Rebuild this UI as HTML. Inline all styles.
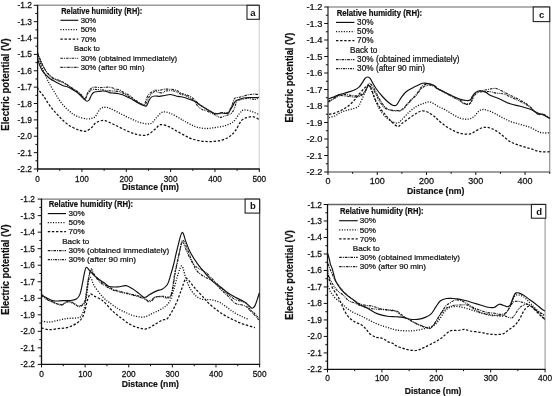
<!DOCTYPE html>
<html><head><meta charset="utf-8"><title>Electric potential vs distance</title>
<style>html,body{margin:0;padding:0;background:#fff;}svg{display:block;}text{fill:#111;} .t{stroke:#111;stroke-width:0.24px;} .b{stroke:#111;stroke-width:0.2px;} .l{stroke:#111;stroke-width:0.22px;}</style></head>
<body><svg width="553" height="396" viewBox="0 0 553 396" font-family='"Liberation Sans", Arial, Helvetica, sans-serif'>
<rect width="553" height="396" fill="#fff"/>
<path d="M37.60,5.30H259.30" fill="none" stroke="#9a9a9a" stroke-width="1.4"/>
<path d="M259.30,5.30V169.00" fill="none" stroke="#d8d8d8" stroke-width="1.3"/>
<path d="M37.60,169.00H259.80" fill="none" stroke="#111" stroke-width="1.3"/>
<path d="M37.60,4.80V169.60" fill="none" stroke="#111" stroke-width="1.3"/>
<path d="M33.80,5.30H37.60M35.40,13.49H37.60M33.80,21.67H37.60M35.40,29.86H37.60M33.80,38.04H37.60M35.40,46.22H37.60M33.80,54.41H37.60M35.40,62.60H37.60M33.80,70.78H37.60M35.40,78.96H37.60M33.80,87.15H37.60M35.40,95.33H37.60M33.80,103.52H37.60M35.40,111.71H37.60M33.80,119.89H37.60M35.40,128.07H37.60M33.80,136.26H37.60M35.40,144.44H37.60M33.80,152.63H37.60M35.40,160.81H37.60M33.80,169.00H37.60M37.60,169.00V172.00M59.77,169.00V170.80M81.94,169.00V172.00M104.11,169.00V170.80M126.28,169.00V172.00M148.45,169.00V170.80M170.62,169.00V172.00M192.79,169.00V170.80M214.96,169.00V172.00M237.13,169.00V170.80M259.30,169.00V172.00" fill="none" stroke="#111" stroke-width="1"/>
<text transform="translate(32.00,8.30) scale(1,1.16)" text-anchor="end" font-size="8.4" class="t">-1.2</text>
<text transform="translate(32.00,24.67) scale(1,1.16)" text-anchor="end" font-size="8.4" class="t">-1.3</text>
<text transform="translate(32.00,41.04) scale(1,1.16)" text-anchor="end" font-size="8.4" class="t">-1.4</text>
<text transform="translate(32.00,57.41) scale(1,1.16)" text-anchor="end" font-size="8.4" class="t">-1.5</text>
<text transform="translate(32.00,73.78) scale(1,1.16)" text-anchor="end" font-size="8.4" class="t">-1.6</text>
<text transform="translate(32.00,90.15) scale(1,1.16)" text-anchor="end" font-size="8.4" class="t">-1.7</text>
<text transform="translate(32.00,106.52) scale(1,1.16)" text-anchor="end" font-size="8.4" class="t">-1.8</text>
<text transform="translate(32.00,122.89) scale(1,1.16)" text-anchor="end" font-size="8.4" class="t">-1.9</text>
<text transform="translate(32.00,139.26) scale(1,1.16)" text-anchor="end" font-size="8.4" class="t">-2.0</text>
<text transform="translate(32.00,155.63) scale(1,1.16)" text-anchor="end" font-size="8.4" class="t">-2.1</text>
<text transform="translate(32.00,172.00) scale(1,1.16)" text-anchor="end" font-size="8.4" class="t">-2.2</text>
<text transform="translate(37.60,181.60) scale(1,1.18)" text-anchor="middle" font-size="8.2" class="t">0</text>
<text transform="translate(81.94,181.60) scale(1,1.18)" text-anchor="middle" font-size="8.2" class="t">100</text>
<text transform="translate(126.28,181.60) scale(1,1.18)" text-anchor="middle" font-size="8.2" class="t">200</text>
<text transform="translate(170.62,181.60) scale(1,1.18)" text-anchor="middle" font-size="8.2" class="t">300</text>
<text transform="translate(214.96,181.60) scale(1,1.18)" text-anchor="middle" font-size="8.2" class="t">400</text>
<text transform="translate(259.30,181.60) scale(1,1.18)" text-anchor="middle" font-size="8.2" class="t">500</text>
<text transform="translate(9.00,130.70) rotate(-90)" x="0" y="0" font-size="10.4" font-weight="bold" class="b" textLength="92.5" lengthAdjust="spacingAndGlyphs">Electric potential (V)</text>
<text x="122.00" y="190.30" font-size="9.5" font-weight="bold" class="b" textLength="57.0" lengthAdjust="spacingAndGlyphs">Distance (nm)</text>
<rect x="247.00" y="5.30" width="12.30" height="14.00" fill="#fff" stroke="#222" stroke-width="1.1"/>
<text x="253.00" y="16.20" text-anchor="middle" font-size="9.5" font-weight="bold">a</text>
<text x="61.30" y="13.70" font-size="8.3" font-weight="bold" class="b" textLength="80.8" lengthAdjust="spacingAndGlyphs">Relative humidity (RH):</text>
<path d="M60.40,20.30H78.30" stroke="#111" stroke-width="1.15" fill="none"/>
<text x="80.70" y="22.90" font-size="7.78" class="l">30%</text>
<path d="M60.40,29.70H78.30" stroke="#111" stroke-width="1.3" stroke-dasharray="1.1 1.5" fill="none"/>
<text x="80.70" y="32.30" font-size="7.78" class="l">50%</text>
<path d="M60.40,39.10H78.30" stroke="#111" stroke-width="1.25" stroke-dasharray="2.4 1.7" fill="none"/>
<text x="80.70" y="41.70" font-size="7.78" class="l">70%</text>
<text x="74.00" y="51.40" font-size="7.78" class="l">Back to</text>
<path d="M60.40,58.20H78.30" stroke="#1a1a1a" stroke-width="1.1" stroke-dasharray="2.6 1 1 1" fill="none"/>
<text x="80.70" y="60.80" font-size="7.78" class="l" textLength="96.5" lengthAdjust="spacingAndGlyphs">30% (obtained immediately)</text>
<path d="M60.40,67.40H78.30" stroke="#1a1a1a" stroke-width="1.1" stroke-dasharray="2.4 0.9 0.9 0.9 0.9 0.9" fill="none"/>
<text x="80.70" y="70.00" font-size="7.78" class="l" textLength="63.8" lengthAdjust="spacingAndGlyphs">30% (after 90 min)</text>
<path d="M37.60,59.00 C37.75,59.50 37.77,60.15 38.50,62.00 C39.23,63.85 40.73,67.90 42.00,70.10 C43.27,72.30 44.75,73.77 46.10,75.20 C47.45,76.63 48.58,77.62 50.10,78.70 C51.62,79.78 53.52,80.78 55.20,81.70 C56.88,82.62 58.85,83.52 60.20,84.20 C61.55,84.88 62.12,85.37 63.30,85.80 C64.48,86.23 65.97,86.30 67.30,86.80 C68.63,87.30 69.68,87.88 71.30,88.80 C72.92,89.72 75.30,91.02 77.00,92.30 C78.70,93.58 80.23,95.30 81.50,96.50 C82.77,97.70 83.72,98.72 84.60,99.50 C85.48,100.28 86.05,101.12 86.80,101.20 C87.55,101.28 88.33,101.00 89.10,100.00 C89.87,99.00 90.63,96.45 91.40,95.20 C92.17,93.95 92.82,93.08 93.70,92.50 C94.58,91.92 95.70,91.88 96.70,91.70 C97.70,91.52 98.57,91.52 99.70,91.40 C100.83,91.28 102.23,90.95 103.50,91.00 C104.77,91.05 106.17,91.38 107.30,91.70 C108.43,92.02 109.17,92.67 110.30,92.90 C111.43,93.13 112.68,92.97 114.10,93.10 C115.52,93.23 117.38,93.42 118.80,93.70 C120.22,93.98 121.33,94.35 122.60,94.80 C123.87,95.25 125.13,95.82 126.40,96.40 C127.67,96.98 128.95,97.62 130.20,98.30 C131.45,98.98 132.65,99.75 133.90,100.50 C135.15,101.25 136.43,102.10 137.70,102.80 C138.97,103.50 140.37,104.20 141.50,104.70 C142.63,105.20 143.73,105.55 144.50,105.80 C145.27,106.05 145.58,106.52 146.10,106.20 C146.62,105.88 147.10,104.90 147.60,103.90 C148.10,102.90 148.47,101.33 149.10,100.20 C149.73,99.07 150.42,97.80 151.40,97.10 C152.38,96.40 153.65,96.12 155.00,96.00 C156.35,95.88 157.98,96.48 159.50,96.40 C161.02,96.32 162.32,95.82 164.10,95.50 C165.88,95.18 168.57,94.53 170.20,94.50 C171.83,94.47 172.65,94.98 173.90,95.30 C175.15,95.62 176.43,96.15 177.70,96.40 C178.97,96.65 180.23,96.57 181.50,96.80 C182.77,97.03 184.03,97.40 185.30,97.80 C186.57,98.20 187.48,98.58 189.10,99.20 C190.72,99.82 193.32,100.62 195.00,101.50 C196.68,102.38 197.93,103.62 199.20,104.50 C200.47,105.38 201.40,106.05 202.60,106.80 C203.80,107.55 205.13,108.25 206.40,109.00 C207.67,109.75 208.95,110.60 210.20,111.30 C211.45,112.00 212.65,112.78 213.90,113.20 C215.15,113.62 216.43,113.83 217.70,113.80 C218.97,113.77 220.23,113.07 221.50,113.00 C222.77,112.93 224.17,113.37 225.30,113.40 C226.43,113.43 227.42,113.87 228.30,113.20 C229.18,112.53 229.83,110.67 230.60,109.40 C231.37,108.13 232.27,106.73 232.90,105.60 C233.53,104.47 233.75,103.50 234.40,102.60 C235.05,101.70 235.97,100.77 236.80,100.20 C237.63,99.63 238.23,99.57 239.40,99.20 C240.57,98.83 242.33,98.28 243.80,98.00 C245.27,97.72 246.83,97.58 248.20,97.50 C249.57,97.42 250.85,97.48 252.00,97.50 C253.15,97.52 253.95,97.62 255.10,97.60 C256.25,97.58 258.27,97.43 258.90,97.40" fill="none" stroke="#111" stroke-width="1.15" stroke-linejoin="round"/>
<path d="M37.60,53.00 C37.83,53.58 38.52,55.33 39.00,56.50 C39.48,57.67 39.82,58.40 40.50,60.00 C41.18,61.60 42.00,64.00 43.10,66.10 C44.20,68.20 45.58,70.70 47.10,72.60 C48.62,74.50 50.52,76.32 52.20,77.50 C53.88,78.68 55.52,79.00 57.20,79.70 C58.88,80.40 60.62,80.87 62.30,81.70 C63.98,82.53 65.62,83.60 67.30,84.70 C68.98,85.80 70.78,87.20 72.40,88.30 C74.02,89.40 75.57,90.27 77.00,91.30 C78.43,92.33 79.73,93.28 81.00,94.50 C82.27,95.72 83.68,98.43 84.60,98.60 C85.52,98.77 85.87,96.70 86.50,95.50 C87.13,94.30 87.45,92.72 88.40,91.40 C89.35,90.08 90.93,88.30 92.20,87.60 C93.47,86.90 94.75,87.20 96.00,87.20 C97.25,87.20 98.45,87.57 99.70,87.60 C100.95,87.63 101.85,87.47 103.50,87.40 C105.15,87.33 107.95,87.05 109.60,87.20 C111.25,87.35 112.50,87.97 113.40,88.30 C114.30,88.63 114.10,89.00 115.00,89.20 C115.90,89.40 117.53,89.07 118.80,89.50 C120.07,89.93 121.33,91.10 122.60,91.80 C123.87,92.50 125.13,93.00 126.40,93.70 C127.67,94.40 128.95,95.12 130.20,96.00 C131.45,96.88 132.65,98.05 133.90,99.00 C135.15,99.95 136.43,100.88 137.70,101.70 C138.97,102.52 140.48,103.40 141.50,103.90 C142.52,104.40 143.17,104.95 143.80,104.70 C144.43,104.45 144.80,103.53 145.30,102.40 C145.80,101.27 146.17,99.28 146.80,97.90 C147.43,96.52 148.22,95.12 149.10,94.10 C149.98,93.08 151.12,92.43 152.10,91.80 C153.08,91.17 153.77,90.55 155.00,90.30 C156.23,90.05 157.98,90.48 159.50,90.30 C161.02,90.12 162.58,89.38 164.10,89.20 C165.62,89.02 166.97,89.13 168.60,89.20 C170.23,89.27 172.38,89.28 173.90,89.60 C175.42,89.92 176.43,90.47 177.70,91.10 C178.97,91.73 180.23,92.83 181.50,93.40 C182.77,93.97 184.03,94.07 185.30,94.50 C186.57,94.93 187.83,95.37 189.10,96.00 C190.37,96.63 191.92,97.60 192.90,98.30 C193.88,99.00 194.02,99.28 195.00,100.20 C195.98,101.12 197.53,102.75 198.80,103.80 C200.07,104.85 201.33,105.63 202.60,106.50 C203.87,107.37 205.13,108.20 206.40,109.00 C207.67,109.80 208.95,110.63 210.20,111.30 C211.45,111.97 212.65,112.62 213.90,113.00 C215.15,113.38 216.43,113.68 217.70,113.60 C218.97,113.52 220.23,112.63 221.50,112.50 C222.77,112.37 224.17,112.80 225.30,112.80 C226.43,112.80 227.42,113.30 228.30,112.50 C229.18,111.70 229.83,109.58 230.60,108.00 C231.37,106.42 232.27,104.53 232.90,103.00 C233.53,101.47 233.85,99.70 234.40,98.80 C234.95,97.90 235.37,97.85 236.20,97.60 C237.03,97.35 238.13,97.57 239.40,97.30 C240.67,97.03 242.55,96.37 243.80,96.00 C245.05,95.63 245.85,95.35 246.90,95.10 C247.95,94.85 248.73,94.67 250.10,94.50 C251.47,94.33 253.63,94.05 255.10,94.10 C256.57,94.15 258.27,94.68 258.90,94.80" fill="none" stroke="#1a1a1a" stroke-width="1.1" stroke-dasharray="2.6 1 1 1" stroke-linejoin="round"/>
<path d="M37.60,54.50 C37.92,55.17 38.93,57.25 39.50,58.50 C40.07,59.75 40.33,60.58 41.00,62.00 C41.67,63.42 42.42,65.13 43.50,67.00 C44.58,68.87 46.00,71.37 47.50,73.20 C49.00,75.03 50.83,76.82 52.50,78.00 C54.17,79.18 55.83,79.58 57.50,80.30 C59.17,81.02 60.83,81.48 62.50,82.30 C64.17,83.12 65.83,84.13 67.50,85.20 C69.17,86.27 70.92,87.65 72.50,88.70 C74.08,89.75 75.58,90.45 77.00,91.50 C78.42,92.55 79.70,93.67 81.00,95.00 C82.30,96.33 83.80,99.42 84.80,99.50 C85.80,99.58 86.30,96.75 87.00,95.50 C87.70,94.25 88.08,93.00 89.00,92.00 C89.92,91.00 91.33,89.92 92.50,89.50 C93.67,89.08 94.80,89.45 96.00,89.50 C97.20,89.55 98.45,89.72 99.70,89.80 C100.95,89.88 102.23,89.87 103.50,90.00 C104.77,90.13 105.72,90.43 107.30,90.60 C108.88,90.77 111.08,90.85 113.00,91.00 C114.92,91.15 117.20,91.17 118.80,91.50 C120.40,91.83 121.33,92.42 122.60,93.00 C123.87,93.58 125.13,94.28 126.40,95.00 C127.67,95.72 128.95,96.47 130.20,97.30 C131.45,98.13 132.65,99.17 133.90,100.00 C135.15,100.83 136.43,101.58 137.70,102.30 C138.97,103.02 140.37,103.77 141.50,104.30 C142.63,104.83 143.75,105.63 144.50,105.50 C145.25,105.37 145.48,104.50 146.00,103.50 C146.52,102.50 147.02,100.67 147.60,99.50 C148.18,98.33 148.77,97.50 149.50,96.50 C150.23,95.50 151.08,94.33 152.00,93.50 C152.92,92.67 153.83,91.67 155.00,91.50 C156.17,91.33 157.73,92.28 159.00,92.50 C160.27,92.72 161.52,93.03 162.60,92.80 C163.68,92.57 164.23,91.45 165.50,91.10 C166.77,90.75 168.80,90.72 170.20,90.70 C171.60,90.68 172.65,90.70 173.90,91.00 C175.15,91.30 176.43,91.92 177.70,92.50 C178.97,93.08 180.23,94.00 181.50,94.50 C182.77,95.00 184.03,95.00 185.30,95.50 C186.57,96.00 187.48,96.42 189.10,97.50 C190.72,98.58 193.52,100.52 195.00,102.00 C196.48,103.48 196.73,105.10 198.00,106.40 C199.27,107.70 201.43,109.17 202.60,109.80 C203.77,110.43 203.77,109.75 205.00,110.20 C206.23,110.65 208.13,111.62 210.00,112.50 C211.87,113.38 214.53,114.68 216.20,115.50 C217.87,116.32 218.73,117.28 220.00,117.40 C221.27,117.52 222.53,116.58 223.80,116.20 C225.07,115.82 226.33,115.60 227.60,115.10 C228.87,114.60 230.40,114.02 231.40,113.20 C232.40,112.38 233.00,111.33 233.60,110.20 C234.20,109.07 234.47,107.93 235.00,106.40 C235.53,104.87 236.07,102.07 236.80,101.00 C237.53,99.93 238.23,100.33 239.40,100.00 C240.57,99.67 242.33,99.27 243.80,99.00 C245.27,98.73 246.83,98.40 248.20,98.40 C249.57,98.40 250.85,98.82 252.00,99.00 C253.15,99.18 254.05,99.63 255.10,99.50 C256.15,99.37 257.77,98.42 258.30,98.20" fill="none" stroke="#1a1a1a" stroke-width="1.1" stroke-dasharray="2.4 0.9 0.9 0.9 0.9 0.9" stroke-linejoin="round"/>
<path d="M37.60,53.00 C38.00,54.50 39.10,59.17 40.00,62.00 C40.90,64.83 41.90,67.33 43.00,70.00 C44.10,72.67 45.50,75.65 46.60,78.00 C47.70,80.35 48.33,81.82 49.60,84.10 C50.87,86.38 52.68,89.18 54.20,91.70 C55.72,94.22 56.93,96.68 58.70,99.20 C60.47,101.72 62.52,104.40 64.80,106.80 C67.08,109.20 69.87,111.83 72.40,113.60 C74.93,115.37 77.48,116.52 80.00,117.40 C82.52,118.28 85.50,118.75 87.50,118.90 C89.50,119.05 90.70,118.67 92.00,118.30 C93.30,117.93 94.38,117.58 95.30,116.70 C96.22,115.82 96.77,114.20 97.50,113.00 C98.23,111.80 98.87,110.40 99.70,109.50 C100.53,108.60 101.53,107.97 102.50,107.60 C103.47,107.23 104.22,107.17 105.50,107.30 C106.78,107.43 107.73,107.37 110.20,108.40 C112.67,109.43 116.93,111.82 120.30,113.50 C123.67,115.18 127.05,116.98 130.40,118.50 C133.75,120.02 137.05,121.75 140.40,122.60 C143.75,123.45 147.80,124.45 150.50,123.60 C153.20,122.75 154.58,119.42 156.60,117.50 C158.62,115.58 160.25,112.77 162.60,112.10 C164.95,111.43 167.80,112.43 170.70,113.50 C173.60,114.57 177.60,117.17 180.00,118.50 C182.40,119.83 182.57,120.17 185.10,121.50 C187.63,122.83 191.83,125.33 195.20,126.50 C198.57,127.67 201.93,128.33 205.30,128.50 C208.67,128.67 212.05,128.00 215.40,127.50 C218.75,127.00 222.38,126.50 225.40,125.50 C228.42,124.50 231.13,123.52 233.50,121.50 C235.87,119.48 237.92,115.32 239.60,113.40 C241.28,111.48 241.58,110.33 243.60,110.00 C245.62,109.67 249.18,110.67 251.70,111.40 C254.22,112.13 257.53,113.90 258.70,114.40" fill="none" stroke="#111" stroke-width="1.3" stroke-dasharray="1.1 1.5" stroke-linejoin="round"/>
<path d="M37.60,87.50 C37.72,87.82 37.30,87.95 38.30,89.40 C39.30,90.85 41.72,93.55 43.60,96.20 C45.48,98.85 47.33,102.27 49.60,105.30 C51.87,108.33 54.67,111.62 57.20,114.40 C59.73,117.18 62.27,119.85 64.80,122.00 C67.33,124.15 69.87,125.92 72.40,127.30 C74.93,128.68 77.73,129.67 80.00,130.30 C82.27,130.93 84.00,131.60 86.00,131.10 C88.00,130.60 90.33,128.70 92.00,127.30 C93.67,125.90 93.98,123.83 96.00,122.70 C98.02,121.57 101.07,120.18 104.10,120.50 C107.13,120.82 110.50,122.92 114.20,124.60 C117.90,126.28 122.60,128.98 126.30,130.60 C130.00,132.22 133.03,133.55 136.40,134.30 C139.77,135.05 143.47,135.88 146.50,135.10 C149.53,134.32 152.25,131.35 154.60,129.60 C156.95,127.85 158.25,125.10 160.60,124.60 C162.95,124.10 166.30,125.68 168.70,126.60 C171.10,127.52 172.60,128.77 175.00,130.10 C177.40,131.43 180.42,133.18 183.10,134.60 C185.78,136.02 188.08,137.53 191.10,138.60 C194.12,139.67 197.83,140.50 201.20,141.00 C204.57,141.50 207.93,141.73 211.30,141.60 C214.67,141.47 218.37,141.03 221.40,140.20 C224.43,139.37 227.15,138.22 229.50,136.60 C231.85,134.98 233.48,133.20 235.50,130.50 C237.52,127.80 239.58,122.58 241.60,120.40 C243.62,118.22 245.58,118.00 247.60,117.40 C249.62,116.80 251.85,116.47 253.70,116.80 C255.55,117.13 257.87,118.97 258.70,119.40" fill="none" stroke="#111" stroke-width="1.25" stroke-dasharray="2.4 1.7" stroke-linejoin="round"/>
<path d="M41.50,199.10H259.60" fill="none" stroke="#7a7a7a" stroke-width="1.4"/>
<path d="M259.60,199.10V364.40" fill="none" stroke="#555" stroke-width="1.3"/>
<path d="M41.50,364.40H260.10" fill="none" stroke="#111" stroke-width="1.3"/>
<path d="M41.50,198.60V365.00" fill="none" stroke="#111" stroke-width="1.3"/>
<path d="M37.70,199.10H41.50M39.30,207.37H41.50M37.70,215.63H41.50M39.30,223.90H41.50M37.70,232.16H41.50M39.30,240.42H41.50M37.70,248.69H41.50M39.30,256.95H41.50M37.70,265.22H41.50M39.30,273.49H41.50M37.70,281.75H41.50M39.30,290.01H41.50M37.70,298.28H41.50M39.30,306.55H41.50M37.70,314.81H41.50M39.30,323.07H41.50M37.70,331.34H41.50M39.30,339.60H41.50M37.70,347.87H41.50M39.30,356.13H41.50M37.70,364.40H41.50M41.50,364.40V367.40M63.31,364.40V366.20M85.12,364.40V367.40M106.93,364.40V366.20M128.74,364.40V367.40M150.55,364.40V366.20M172.36,364.40V367.40M194.17,364.40V366.20M215.98,364.40V367.40M237.79,364.40V366.20M259.60,364.40V367.40" fill="none" stroke="#111" stroke-width="1"/>
<text transform="translate(34.80,202.10) scale(1,1.08)" text-anchor="end" font-size="8.3" class="t">-1.2</text>
<text transform="translate(34.80,218.63) scale(1,1.08)" text-anchor="end" font-size="8.3" class="t">-1.3</text>
<text transform="translate(34.80,235.16) scale(1,1.08)" text-anchor="end" font-size="8.3" class="t">-1.4</text>
<text transform="translate(34.80,251.69) scale(1,1.08)" text-anchor="end" font-size="8.3" class="t">-1.5</text>
<text transform="translate(34.80,268.22) scale(1,1.08)" text-anchor="end" font-size="8.3" class="t">-1.6</text>
<text transform="translate(34.80,284.75) scale(1,1.08)" text-anchor="end" font-size="8.3" class="t">-1.7</text>
<text transform="translate(34.80,301.28) scale(1,1.08)" text-anchor="end" font-size="8.3" class="t">-1.8</text>
<text transform="translate(34.80,317.81) scale(1,1.08)" text-anchor="end" font-size="8.3" class="t">-1.9</text>
<text transform="translate(34.80,334.34) scale(1,1.08)" text-anchor="end" font-size="8.3" class="t">-2.0</text>
<text transform="translate(34.80,350.87) scale(1,1.08)" text-anchor="end" font-size="8.3" class="t">-2.1</text>
<text transform="translate(34.80,367.40) scale(1,1.08)" text-anchor="end" font-size="8.3" class="t">-2.2</text>
<text transform="translate(41.50,376.70) scale(1,1.12)" text-anchor="middle" font-size="8.3" class="t">0</text>
<text transform="translate(85.12,376.70) scale(1,1.12)" text-anchor="middle" font-size="8.3" class="t">100</text>
<text transform="translate(128.74,376.70) scale(1,1.12)" text-anchor="middle" font-size="8.3" class="t">200</text>
<text transform="translate(172.36,376.70) scale(1,1.12)" text-anchor="middle" font-size="8.3" class="t">300</text>
<text transform="translate(215.98,376.70) scale(1,1.12)" text-anchor="middle" font-size="8.3" class="t">400</text>
<text transform="translate(259.60,376.70) scale(1,1.12)" text-anchor="middle" font-size="8.3" class="t">500</text>
<text transform="translate(9.00,314.70) rotate(-90)" x="0" y="0" font-size="10.4" font-weight="bold" class="b" textLength="90.2" lengthAdjust="spacingAndGlyphs">Electric potential (V)</text>
<text x="121.70" y="386.60" font-size="9.5" font-weight="bold" class="b" textLength="57.3" lengthAdjust="spacingAndGlyphs">Distance (nm)</text>
<rect x="245.10" y="199.10" width="14.50" height="14.00" fill="#fff" stroke="#222" stroke-width="1.1"/>
<text x="253.00" y="209.20" text-anchor="middle" font-size="9.5" font-weight="bold">b</text>
<text x="48.70" y="206.70" font-size="8.3" font-weight="bold" class="b" textLength="84.4" lengthAdjust="spacingAndGlyphs">Relative humidity (RH):</text>
<path d="M47.80,213.60H66.00" stroke="#111" stroke-width="1.15" fill="none"/>
<text x="68.40" y="216.20" font-size="8.1" class="l">30%</text>
<path d="M47.80,222.70H66.00" stroke="#111" stroke-width="1.3" stroke-dasharray="1.1 1.5" fill="none"/>
<text x="68.40" y="225.30" font-size="8.1" class="l">50%</text>
<path d="M47.80,231.70H66.00" stroke="#111" stroke-width="1.25" stroke-dasharray="2.4 1.7" fill="none"/>
<text x="68.40" y="234.30" font-size="8.1" class="l">70%</text>
<text x="62.20" y="243.90" font-size="8.1" class="l">Back to</text>
<path d="M47.80,250.60H66.00" stroke="#1a1a1a" stroke-width="1.1" stroke-dasharray="2.6 1 1 1" fill="none"/>
<text x="68.40" y="253.20" font-size="8.1" class="l" textLength="100.9" lengthAdjust="spacingAndGlyphs">30% (obtained immediately)</text>
<path d="M47.80,259.60H66.00" stroke="#1a1a1a" stroke-width="1.1" stroke-dasharray="2.4 0.9 0.9 0.9 0.9 0.9" fill="none"/>
<text x="68.40" y="262.20" font-size="8.1" class="l" textLength="67.6" lengthAdjust="spacingAndGlyphs">30% (after 90 min)</text>
<path d="M41.50,294.50 C42.27,295.02 44.08,296.53 46.10,297.60 C48.12,298.67 50.83,300.40 53.60,300.90 C56.37,301.40 59.92,300.65 62.70,300.60 C65.48,300.55 68.02,300.85 70.30,300.60 C72.58,300.35 74.78,300.18 76.40,299.10 C78.02,298.02 78.97,296.83 80.00,294.10 C81.03,291.37 81.85,286.28 82.60,282.70 C83.35,279.12 83.87,275.17 84.50,272.60 C85.13,270.03 85.45,267.50 86.40,267.30 C87.35,267.10 88.73,269.88 90.20,271.40 C91.67,272.92 93.52,274.93 95.20,276.40 C96.88,277.87 98.67,279.03 100.30,280.20 C101.93,281.37 103.53,282.35 105.00,283.40 C106.47,284.45 106.93,285.92 109.10,286.50 C111.27,287.08 115.20,287.05 118.00,286.90 C120.80,286.75 123.55,285.32 125.90,285.60 C128.25,285.88 129.88,287.27 132.10,288.60 C134.32,289.93 137.13,292.12 139.20,293.60 C141.27,295.08 142.73,297.35 144.50,297.50 C146.27,297.65 147.75,295.60 149.80,294.50 C151.85,293.40 154.75,291.78 156.80,290.90 C158.85,290.02 160.33,290.27 162.10,289.20 C163.87,288.13 165.98,286.83 167.40,284.50 C168.82,282.17 169.57,278.53 170.60,275.20 C171.63,271.87 172.53,268.70 173.60,264.50 C174.67,260.30 175.60,255.32 177.00,250.00 C178.40,244.68 180.50,233.93 182.00,232.60 C183.50,231.27 184.62,238.72 186.00,242.00 C187.38,245.28 188.32,248.57 190.30,252.30 C192.28,256.03 195.37,260.87 197.90,264.40 C200.43,267.93 203.05,270.67 205.50,273.50 C207.95,276.33 210.15,279.20 212.60,281.40 C215.05,283.60 217.68,284.82 220.20,286.70 C222.72,288.58 225.18,290.93 227.70,292.70 C230.22,294.47 232.77,295.90 235.30,297.30 C237.83,298.70 240.88,299.97 242.90,301.10 C244.92,302.23 245.88,302.92 247.40,304.10 C248.92,305.28 250.73,307.95 252.00,308.20 C253.27,308.45 254.00,307.42 255.00,305.60 C256.00,303.78 257.28,299.40 258.00,297.30 C258.72,295.20 259.08,293.72 259.30,293.00" fill="none" stroke="#111" stroke-width="1.15" stroke-linejoin="round"/>
<path d="M41.50,295.00 C42.25,295.58 44.23,297.43 46.00,298.50 C47.77,299.57 49.57,300.28 52.10,301.40 C54.63,302.52 58.67,305.18 61.20,305.20 C63.73,305.22 65.28,301.88 67.30,301.50 C69.32,301.12 71.42,302.03 73.30,302.90 C75.18,303.77 77.08,306.32 78.60,306.70 C80.12,307.08 81.25,306.35 82.40,305.20 C83.55,304.05 84.63,303.12 85.50,299.80 C86.37,296.48 86.93,289.60 87.60,285.30 C88.27,281.00 88.87,276.75 89.50,274.00 C90.13,271.25 90.67,268.82 91.40,268.80 C92.13,268.78 92.42,271.78 93.90,273.90 C95.38,276.02 98.45,279.72 100.30,281.50 C102.15,283.28 102.93,283.32 105.00,284.60 C107.07,285.88 109.95,288.00 112.70,289.20 C115.45,290.40 118.57,291.02 121.50,291.80 C124.43,292.58 127.35,293.17 130.30,293.90 C133.25,294.63 136.83,295.52 139.20,296.20 C141.57,296.88 143.03,297.12 144.50,298.00 C145.97,298.88 146.83,301.00 148.00,301.50 C149.17,302.00 150.32,301.67 151.50,301.00 C152.68,300.33 153.33,298.30 155.10,297.50 C156.87,296.70 159.75,296.27 162.10,296.20 C164.45,296.13 167.57,297.83 169.20,297.10 C170.83,296.37 171.03,295.45 171.90,291.80 C172.77,288.15 173.60,279.75 174.40,275.20 C175.20,270.65 175.85,268.37 176.70,264.50 C177.55,260.63 178.50,256.05 179.50,252.00 C180.50,247.95 181.40,240.67 182.70,240.20 C184.00,239.73 185.53,245.17 187.30,249.20 C189.07,253.23 191.53,260.60 193.30,264.40 C195.07,268.20 195.87,269.85 197.90,272.00 C199.93,274.15 202.98,275.78 205.50,277.30 C208.02,278.82 210.55,279.17 213.00,281.10 C215.45,283.03 217.75,286.45 220.20,288.90 C222.65,291.35 225.18,293.40 227.70,295.80 C230.22,298.20 233.02,301.80 235.30,303.30 C237.58,304.80 239.63,304.28 241.40,304.80 C243.17,305.32 244.38,305.38 245.90,306.40 C247.42,307.42 248.98,309.38 250.50,310.90 C252.02,312.42 253.62,313.98 255.00,315.50 C256.38,317.02 258.17,319.25 258.80,320.00" fill="none" stroke="#1a1a1a" stroke-width="1.1" stroke-dasharray="2.6 1 1 1" stroke-linejoin="round"/>
<path d="M41.50,295.50 C42.25,296.08 44.23,297.92 46.00,299.00 C47.77,300.08 49.57,301.08 52.10,302.00 C54.63,302.92 58.67,304.50 61.20,304.50 C63.73,304.50 65.28,302.17 67.30,302.00 C69.32,301.83 71.42,302.83 73.30,303.50 C75.18,304.17 77.08,305.83 78.60,306.00 C80.12,306.17 81.33,305.33 82.40,304.50 C83.47,303.67 84.23,303.92 85.00,301.00 C85.77,298.08 86.33,291.17 87.00,287.00 C87.67,282.83 88.33,278.75 89.00,276.00 C89.67,273.25 90.18,270.67 91.00,270.50 C91.82,270.33 92.35,273.00 93.90,275.00 C95.45,277.00 98.45,280.75 100.30,282.50 C102.15,284.25 102.93,284.25 105.00,285.50 C107.07,286.75 109.95,288.83 112.70,290.00 C115.45,291.17 118.57,291.75 121.50,292.50 C124.43,293.25 127.35,293.75 130.30,294.50 C133.25,295.25 136.83,296.25 139.20,297.00 C141.57,297.75 143.03,298.42 144.50,299.00 C145.97,299.58 146.83,300.33 148.00,300.50 C149.17,300.67 150.32,300.58 151.50,300.00 C152.68,299.42 153.33,297.53 155.10,297.00 C156.87,296.47 159.75,296.67 162.10,296.80 C164.45,296.93 167.47,298.93 169.20,297.80 C170.93,296.67 171.53,293.97 172.50,290.00 C173.47,286.03 174.17,278.67 175.00,274.00 C175.83,269.33 176.67,266.00 177.50,262.00 C178.33,258.00 179.17,253.33 180.00,250.00 C180.83,246.67 181.33,241.67 182.50,242.00 C183.67,242.33 185.42,248.67 187.00,252.00 C188.58,255.33 190.18,259.33 192.00,262.00 C193.82,264.67 195.65,266.32 197.90,268.00 C200.15,269.68 202.98,270.15 205.50,272.10 C208.02,274.05 210.55,277.22 213.00,279.70 C215.45,282.18 217.75,284.62 220.20,287.00 C222.65,289.38 225.18,291.92 227.70,294.00 C230.22,296.08 232.77,298.20 235.30,299.50 C237.83,300.80 241.12,301.22 242.90,301.80 C244.68,302.38 245.00,301.98 246.00,303.00 C247.00,304.02 247.90,306.57 248.90,307.90 C249.90,309.23 250.98,309.98 252.00,311.00 C253.02,312.02 253.87,312.83 255.00,314.00 C256.13,315.17 258.17,317.33 258.80,318.00" fill="none" stroke="#1a1a1a" stroke-width="1.1" stroke-dasharray="2.4 0.9 0.9 0.9 0.9 0.9" stroke-linejoin="round"/>
<path d="M41.50,321.00 C42.77,321.18 46.32,322.22 49.10,322.10 C51.88,321.98 55.17,320.90 58.20,320.30 C61.23,319.70 64.27,318.88 67.30,318.50 C70.33,318.12 74.13,318.33 76.40,318.00 C78.67,317.67 79.65,317.88 80.90,316.50 C82.15,315.12 83.13,312.10 83.90,309.70 C84.67,307.30 84.98,304.88 85.50,302.10 C86.02,299.32 86.50,296.52 87.00,293.00 C87.50,289.48 87.87,283.55 88.50,281.00 C89.13,278.45 89.90,276.98 90.80,277.70 C91.70,278.42 92.32,282.57 93.90,285.30 C95.48,288.03 98.45,291.80 100.30,294.10 C102.15,296.40 103.53,297.72 105.00,299.10 C106.47,300.48 106.93,300.82 109.10,302.40 C111.27,303.98 115.05,306.83 118.00,308.60 C120.95,310.37 123.87,311.73 126.80,313.00 C129.73,314.27 132.65,315.55 135.60,316.20 C138.55,316.85 141.55,317.43 144.50,316.90 C147.45,316.37 150.37,314.38 153.30,313.00 C156.23,311.62 159.47,310.37 162.10,308.60 C164.73,306.83 167.18,305.45 169.10,302.40 C171.02,299.35 172.08,295.10 173.60,290.30 C175.12,285.50 176.80,277.65 178.20,273.60 C179.60,269.55 180.73,265.23 182.00,266.00 C183.27,266.77 184.42,274.40 185.80,278.20 C187.18,282.00 188.53,285.77 190.30,288.80 C192.07,291.83 194.45,294.70 196.40,296.40 C198.35,298.10 200.32,298.48 202.00,299.00 C203.68,299.52 204.73,299.33 206.50,299.50 C208.27,299.67 210.32,299.48 212.60,300.00 C214.88,300.52 217.68,301.28 220.20,302.60 C222.72,303.92 225.18,306.13 227.70,307.90 C230.22,309.67 232.77,311.68 235.30,313.20 C237.83,314.72 240.75,316.00 242.90,317.00 C245.05,318.00 247.32,318.83 248.20,319.20" fill="none" stroke="#111" stroke-width="1.3" stroke-dasharray="1.1 1.5" stroke-linejoin="round"/>
<path d="M41.50,327.90 C42.77,328.20 46.32,329.58 49.10,329.70 C51.88,329.82 55.42,328.90 58.20,328.60 C60.98,328.30 63.28,328.47 65.80,327.90 C68.32,327.33 71.03,326.33 73.30,325.20 C75.57,324.07 77.75,322.67 79.40,321.10 C81.05,319.53 82.18,317.95 83.20,315.80 C84.22,313.65 84.78,310.83 85.50,308.20 C86.22,305.57 86.72,302.35 87.50,300.00 C88.28,297.65 89.13,294.77 90.20,294.10 C91.27,293.43 92.22,295.17 93.90,296.00 C95.58,296.83 98.45,297.95 100.30,299.10 C102.15,300.25 102.93,300.88 105.00,302.90 C107.07,304.92 109.95,308.63 112.70,311.20 C115.45,313.77 118.57,316.08 121.50,318.30 C124.43,320.52 127.35,322.88 130.30,324.50 C133.25,326.12 136.55,327.27 139.20,328.00 C141.85,328.73 143.85,329.33 146.20,328.90 C148.55,328.47 150.65,326.87 153.30,325.40 C155.95,323.93 159.72,321.28 162.10,320.10 C164.48,318.92 165.42,320.73 167.60,318.30 C169.78,315.87 172.93,310.17 175.20,305.50 C177.47,300.83 179.57,294.60 181.20,290.30 C182.83,286.00 183.98,281.60 185.00,279.70 C186.02,277.80 185.67,277.52 187.30,278.90 C188.93,280.28 192.03,284.83 194.80,288.00 C197.57,291.17 201.70,295.47 203.90,297.90 C206.10,300.33 206.30,300.93 208.00,302.60 C209.70,304.27 212.07,306.27 214.10,307.90 C216.13,309.53 217.93,310.88 220.20,312.40 C222.47,313.92 225.18,315.60 227.70,317.00 C230.22,318.40 232.52,319.55 235.30,320.80 C238.08,322.05 241.12,323.37 244.40,324.50 C247.68,325.63 253.23,327.08 255.00,327.60" fill="none" stroke="#111" stroke-width="1.25" stroke-dasharray="2.4 1.7" stroke-linejoin="round"/>
<path d="M328.00,7.00H549.70" fill="none" stroke="#999" stroke-width="1.6"/>
<path d="M549.70,7.00V172.00" fill="none" stroke="#9a9a9a" stroke-width="1.3"/>
<path d="M328.00,172.00H550.20" fill="none" stroke="#7c7c7c" stroke-width="1.7"/>
<path d="M328.00,6.50V172.60" fill="none" stroke="#333" stroke-width="1.3"/>
<path d="M324.20,7.00H328.00M325.80,15.25H328.00M324.20,23.50H328.00M325.80,31.75H328.00M324.20,40.00H328.00M325.80,48.25H328.00M324.20,56.50H328.00M325.80,64.75H328.00M324.20,73.00H328.00M325.80,81.25H328.00M324.20,89.50H328.00M325.80,97.75H328.00M324.20,106.00H328.00M325.80,114.25H328.00M324.20,122.50H328.00M325.80,130.75H328.00M324.20,139.00H328.00M325.80,147.25H328.00M324.20,155.50H328.00M325.80,163.75H328.00M324.20,172.00H328.00M328.00,172.00V175.00M352.63,172.00V173.80M377.27,172.00V175.00M401.90,172.00V173.80M426.53,172.00V175.00M451.17,172.00V173.80M475.80,172.00V175.00M500.43,172.00V173.80M525.07,172.00V175.00M549.70,172.00V173.80" fill="none" stroke="#111" stroke-width="1"/>
<text transform="translate(322.40,10.20) scale(1,1.02)" text-anchor="end" font-size="9.3" class="t">-1.2</text>
<text transform="translate(322.40,26.70) scale(1,1.02)" text-anchor="end" font-size="9.3" class="t">-1.3</text>
<text transform="translate(322.40,43.20) scale(1,1.02)" text-anchor="end" font-size="9.3" class="t">-1.4</text>
<text transform="translate(322.40,59.70) scale(1,1.02)" text-anchor="end" font-size="9.3" class="t">-1.5</text>
<text transform="translate(322.40,76.20) scale(1,1.02)" text-anchor="end" font-size="9.3" class="t">-1.6</text>
<text transform="translate(322.40,92.70) scale(1,1.02)" text-anchor="end" font-size="9.3" class="t">-1.7</text>
<text transform="translate(322.40,109.20) scale(1,1.02)" text-anchor="end" font-size="9.3" class="t">-1.8</text>
<text transform="translate(322.40,125.70) scale(1,1.02)" text-anchor="end" font-size="9.3" class="t">-1.9</text>
<text transform="translate(322.40,142.20) scale(1,1.02)" text-anchor="end" font-size="9.3" class="t">-2.0</text>
<text transform="translate(322.40,158.70) scale(1,1.02)" text-anchor="end" font-size="9.3" class="t">-2.1</text>
<text transform="translate(322.40,175.20) scale(1,1.02)" text-anchor="end" font-size="9.3" class="t">-2.2</text>
<text transform="translate(328.00,184.00) scale(1,1.05)" text-anchor="middle" font-size="9.0" class="t">0</text>
<text transform="translate(377.27,184.00) scale(1,1.05)" text-anchor="middle" font-size="9.0" class="t">100</text>
<text transform="translate(426.53,184.00) scale(1,1.05)" text-anchor="middle" font-size="9.0" class="t">200</text>
<text transform="translate(475.80,184.00) scale(1,1.05)" text-anchor="middle" font-size="9.0" class="t">300</text>
<text transform="translate(525.07,184.00) scale(1,1.05)" text-anchor="middle" font-size="9.0" class="t">400</text>
<text transform="translate(292.50,122.40) rotate(-90)" x="0" y="0" font-size="10.4" font-weight="bold" class="b" textLength="89.8" lengthAdjust="spacingAndGlyphs">Electric potential (V)</text>
<text x="407.10" y="194.30" font-size="9.5" font-weight="bold" class="b" textLength="57.3" lengthAdjust="spacingAndGlyphs">Distance (nm)</text>
<rect x="533.20" y="7.00" width="16.50" height="14.60" fill="#fff" stroke="#222" stroke-width="1.1"/>
<text x="541.70" y="18.00" text-anchor="middle" font-size="9.5" font-weight="bold">c</text>
<text x="336.70" y="15.50" font-size="8.3" font-weight="bold" class="b" textLength="85.5" lengthAdjust="spacingAndGlyphs">Relative humidity (RH):</text>
<path d="M336.00,22.40H354.40" stroke="#111" stroke-width="1.15" fill="none"/>
<text x="357.10" y="25.00" font-size="8.2" class="l">30%</text>
<path d="M336.00,31.70H354.40" stroke="#111" stroke-width="1.3" stroke-dasharray="1.1 1.5" fill="none"/>
<text x="357.10" y="34.30" font-size="8.2" class="l">50%</text>
<path d="M336.00,40.60H354.40" stroke="#111" stroke-width="1.25" stroke-dasharray="2.4 1.7" fill="none"/>
<text x="357.10" y="43.20" font-size="8.2" class="l">70%</text>
<text x="350.00" y="52.70" font-size="8.2" class="l">Back to</text>
<path d="M336.00,59.60H354.40" stroke="#1a1a1a" stroke-width="1.1" stroke-dasharray="2.6 1 1 1" fill="none"/>
<text x="357.10" y="62.20" font-size="8.2" class="l" textLength="102.5" lengthAdjust="spacingAndGlyphs">30% (obtained immediately)</text>
<path d="M336.00,68.60H354.40" stroke="#1a1a1a" stroke-width="1.1" stroke-dasharray="2.4 0.9 0.9 0.9 0.9 0.9" fill="none"/>
<text x="357.10" y="71.20" font-size="8.2" class="l" textLength="68.0" lengthAdjust="spacingAndGlyphs">30% (after 90 min)</text>
<path d="M328.30,98.80 C329.18,98.50 331.77,97.70 333.60,97.00 C335.43,96.30 337.53,95.22 339.30,94.60 C341.07,93.98 342.72,93.72 344.20,93.30 C345.68,92.88 346.52,92.63 348.20,92.10 C349.88,91.57 352.45,90.98 354.30,90.10 C356.15,89.22 357.93,88.10 359.30,86.80 C360.67,85.50 361.55,83.68 362.50,82.30 C363.45,80.92 364.22,79.38 365.00,78.50 C365.78,77.62 366.38,77.05 367.20,77.00 C368.02,76.95 369.08,77.38 369.90,78.20 C370.72,79.02 371.02,80.10 372.10,81.90 C373.18,83.70 374.75,86.65 376.40,89.00 C378.05,91.35 380.12,93.88 382.00,96.00 C383.88,98.12 385.92,100.17 387.70,101.70 C389.48,103.23 391.28,104.62 392.70,105.20 C394.12,105.78 395.23,105.73 396.20,105.20 C397.17,104.67 397.63,103.32 398.50,102.00 C399.37,100.68 400.17,98.97 401.40,97.30 C402.63,95.63 404.13,93.52 405.90,92.00 C407.67,90.48 409.98,89.33 412.00,88.20 C414.02,87.07 416.23,86.02 418.00,85.20 C419.77,84.38 420.83,83.57 422.60,83.30 C424.37,83.03 426.53,83.15 428.60,83.60 C430.67,84.05 433.50,85.17 435.00,86.00 C436.50,86.83 435.90,87.53 437.60,88.60 C439.30,89.67 442.68,91.13 445.20,92.40 C447.72,93.67 450.18,95.07 452.70,96.20 C455.22,97.33 458.02,98.48 460.30,99.20 C462.58,99.92 464.75,100.37 466.40,100.50 C468.05,100.63 469.20,100.72 470.20,100.00 C471.20,99.28 471.52,97.47 472.40,96.20 C473.28,94.93 474.23,93.28 475.50,92.40 C476.77,91.52 478.23,90.90 480.00,90.90 C481.77,90.90 484.43,91.68 486.10,92.40 C487.77,93.12 487.67,94.07 490.00,95.20 C492.33,96.33 496.73,97.77 500.10,99.20 C503.47,100.63 506.83,102.62 510.20,103.80 C513.57,104.98 516.93,105.38 520.30,106.30 C523.67,107.22 527.37,108.13 530.40,109.30 C533.43,110.47 536.15,112.28 538.50,113.30 C540.85,114.32 542.65,114.55 544.50,115.40 C546.35,116.25 548.75,117.90 549.60,118.40" fill="none" stroke="#111" stroke-width="1.15" stroke-linejoin="round"/>
<path d="M328.30,101.20 C328.93,100.85 330.80,99.87 332.10,99.10 C333.40,98.33 334.77,97.35 336.10,96.60 C337.43,95.85 338.58,94.93 340.10,94.60 C341.62,94.27 343.68,94.52 345.20,94.60 C346.72,94.68 347.52,94.88 349.20,95.10 C350.88,95.32 353.45,95.90 355.30,95.90 C357.15,95.90 358.78,95.73 360.30,95.10 C361.82,94.47 363.22,93.45 364.40,92.10 C365.58,90.75 366.58,88.47 367.40,87.00 C368.22,85.53 368.27,83.20 369.30,83.30 C370.33,83.40 372.18,85.48 373.60,87.60 C375.02,89.72 376.40,93.42 377.80,96.00 C379.20,98.58 380.58,101.08 382.00,103.10 C383.42,105.12 384.63,106.92 386.30,108.10 C387.97,109.28 390.05,109.80 392.00,110.20 C393.95,110.60 396.50,110.53 398.00,110.50 C399.50,110.47 399.93,110.57 401.00,110.00 C402.07,109.43 402.82,108.72 404.40,107.10 C405.98,105.48 408.48,102.45 410.50,100.30 C412.52,98.15 414.73,96.35 416.50,94.20 C418.27,92.05 419.58,89.03 421.10,87.40 C422.62,85.77 423.83,84.90 425.60,84.40 C427.37,83.90 429.70,83.70 431.70,84.40 C433.70,85.10 435.35,87.27 437.60,88.60 C439.85,89.93 442.68,91.13 445.20,92.40 C447.72,93.67 450.18,94.93 452.70,96.20 C455.22,97.47 458.53,98.87 460.30,100.00 C462.07,101.13 461.78,102.37 463.30,103.00 C464.82,103.63 468.03,104.30 469.40,103.80 C470.77,103.30 470.75,101.52 471.50,100.00 C472.25,98.48 472.73,96.13 473.90,94.70 C475.07,93.27 476.73,92.15 478.50,91.40 C480.27,90.65 482.48,90.62 484.50,90.20 C486.52,89.78 488.67,89.18 490.60,88.90 C492.53,88.62 494.18,88.13 496.10,88.50 C498.02,88.87 499.75,89.98 502.10,91.10 C504.45,92.22 507.17,93.68 510.20,95.20 C513.23,96.72 517.27,98.52 520.30,100.20 C523.33,101.88 526.05,103.45 528.40,105.30 C530.75,107.15 532.72,109.80 534.40,111.30 C536.08,112.80 537.15,113.87 538.50,114.30 C539.85,114.73 541.15,113.62 542.50,113.90 C543.85,114.18 545.42,115.25 546.60,116.00 C547.78,116.75 549.10,118.00 549.60,118.40" fill="none" stroke="#1a1a1a" stroke-width="1.1" stroke-dasharray="2.6 1 1 1" stroke-linejoin="round"/>
<path d="M328.30,102.00 C328.93,101.67 330.80,100.75 332.10,100.00 C333.40,99.25 334.77,98.25 336.10,97.50 C337.43,96.75 338.58,95.75 340.10,95.50 C341.62,95.25 343.68,95.83 345.20,96.00 C346.72,96.17 347.52,96.33 349.20,96.50 C350.88,96.67 353.45,97.08 355.30,97.00 C357.15,96.92 358.78,96.67 360.30,96.00 C361.82,95.33 363.28,94.33 364.40,93.00 C365.52,91.67 366.30,89.25 367.00,88.00 C367.70,86.75 367.60,85.33 368.60,85.50 C369.60,85.67 371.52,87.00 373.00,89.00 C374.48,91.00 376.05,94.92 377.50,97.50 C378.95,100.08 380.28,102.62 381.70,104.50 C383.12,106.38 384.28,107.80 386.00,108.80 C387.72,109.80 390.00,110.13 392.00,110.50 C394.00,110.87 396.50,111.00 398.00,111.00 C399.50,111.00 399.93,111.00 401.00,110.50 C402.07,110.00 402.82,109.58 404.40,108.00 C405.98,106.42 408.48,103.17 410.50,101.00 C412.52,98.83 414.73,97.00 416.50,95.00 C418.27,93.00 419.58,90.50 421.10,89.00 C422.62,87.50 423.83,86.58 425.60,86.00 C427.37,85.42 429.70,85.00 431.70,85.50 C433.70,86.00 435.35,87.75 437.60,89.00 C439.85,90.25 442.68,91.67 445.20,93.00 C447.72,94.33 450.18,95.67 452.70,97.00 C455.22,98.33 458.53,99.92 460.30,101.00 C462.07,102.08 461.78,102.97 463.30,103.50 C464.82,104.03 467.95,104.70 469.40,104.20 C470.85,103.70 471.15,101.95 472.00,100.50 C472.85,99.05 473.42,96.87 474.50,95.50 C475.58,94.13 476.83,92.93 478.50,92.30 C480.17,91.67 482.48,91.80 484.50,91.70 C486.52,91.60 488.67,91.47 490.60,91.70 C492.53,91.93 493.85,92.72 496.10,93.10 C498.35,93.48 501.75,93.35 504.10,94.00 C506.45,94.65 507.50,95.75 510.20,97.00 C512.90,98.25 517.27,100.00 520.30,101.50 C523.33,103.00 526.05,104.33 528.40,106.00 C530.75,107.67 532.72,110.08 534.40,111.50 C536.08,112.92 537.15,114.03 538.50,114.50 C539.85,114.97 541.15,114.00 542.50,114.30 C543.85,114.60 545.42,115.62 546.60,116.30 C547.78,116.98 549.10,118.05 549.60,118.40" fill="none" stroke="#1a1a1a" stroke-width="1.1" stroke-dasharray="2.4 0.9 0.9 0.9 0.9 0.9" stroke-linejoin="round"/>
<path d="M329.00,117.50 C330.02,117.22 333.25,116.58 335.10,115.80 C336.95,115.02 338.42,113.63 340.10,112.80 C341.78,111.97 343.33,111.40 345.20,110.80 C347.07,110.20 349.28,109.80 351.30,109.20 C353.32,108.60 355.93,107.98 357.30,107.20 C358.67,106.42 358.68,105.88 359.50,104.50 C360.32,103.12 361.15,101.25 362.20,98.90 C363.25,96.55 364.73,92.72 365.80,90.40 C366.87,88.08 367.55,84.77 368.60,85.00 C369.65,85.23 370.80,88.78 372.10,91.80 C373.40,94.82 374.75,99.57 376.40,103.10 C378.05,106.63 380.12,110.40 382.00,113.00 C383.88,115.60 385.80,117.17 387.70,118.70 C389.60,120.23 391.68,121.50 393.40,122.20 C395.12,122.90 396.67,123.27 398.00,122.90 C399.33,122.53 399.58,121.75 401.40,120.00 C403.22,118.25 406.38,114.67 408.90,112.40 C411.42,110.13 413.97,107.92 416.50,106.40 C419.03,104.88 421.82,104.03 424.10,103.30 C426.38,102.57 427.95,101.53 430.20,102.00 C432.45,102.47 435.10,104.80 437.60,106.10 C440.10,107.40 442.68,108.42 445.20,109.80 C447.72,111.18 450.18,113.00 452.70,114.40 C455.22,115.80 457.77,117.40 460.30,118.20 C462.83,119.00 465.63,119.45 467.90,119.20 C470.17,118.95 472.13,118.00 473.90,116.70 C475.67,115.40 476.98,112.60 478.50,111.40 C480.02,110.20 480.98,109.50 483.00,109.50 C485.02,109.50 487.75,110.25 490.60,111.40 C493.45,112.55 496.83,114.73 500.10,116.40 C503.37,118.07 506.83,120.07 510.20,121.40 C513.57,122.73 516.93,123.38 520.30,124.40 C523.67,125.42 527.03,126.15 530.40,127.50 C533.77,128.85 537.30,131.60 540.50,132.50 C543.70,133.40 548.08,132.83 549.60,132.90" fill="none" stroke="#111" stroke-width="1.3" stroke-dasharray="1.1 1.5" stroke-linejoin="round"/>
<path d="M329.00,114.30 C329.85,114.13 332.42,113.80 334.10,113.30 C335.78,112.80 337.42,112.07 339.10,111.30 C340.78,110.53 342.52,109.72 344.20,108.70 C345.88,107.68 347.52,106.62 349.20,105.20 C350.88,103.78 352.78,101.88 354.30,100.20 C355.82,98.52 356.73,96.97 358.30,95.10 C359.87,93.23 362.10,90.62 363.70,89.00 C365.30,87.38 366.73,85.63 367.90,85.40 C369.07,85.17 369.52,85.35 370.70,87.60 C371.88,89.85 373.35,95.37 375.00,98.90 C376.65,102.43 378.72,105.98 380.60,108.80 C382.48,111.62 384.40,113.57 386.30,115.80 C388.20,118.03 390.05,120.42 392.00,122.20 C393.95,123.98 396.43,126.23 398.00,126.50 C399.57,126.77 399.58,125.13 401.40,123.80 C403.22,122.47 406.38,120.27 408.90,118.50 C411.42,116.73 414.22,114.47 416.50,113.20 C418.78,111.93 420.58,111.02 422.60,110.90 C424.62,110.78 426.53,111.48 428.60,112.50 C430.67,113.52 433.50,115.83 435.00,117.00 C436.50,118.17 435.90,118.03 437.60,119.50 C439.30,120.97 442.68,124.00 445.20,125.80 C447.72,127.60 450.18,129.05 452.70,130.30 C455.22,131.55 457.52,132.67 460.30,133.30 C463.08,133.93 466.87,134.47 469.40,134.10 C471.93,133.73 473.48,132.12 475.50,131.10 C477.52,130.08 479.73,128.63 481.50,128.00 C483.27,127.37 484.33,127.17 486.10,127.30 C487.87,127.43 489.77,127.77 492.10,128.80 C494.43,129.83 497.08,131.37 500.10,133.50 C503.12,135.63 506.83,139.57 510.20,141.60 C513.57,143.63 516.93,144.52 520.30,145.70 C523.67,146.88 527.03,147.70 530.40,148.70 C533.77,149.70 537.30,151.20 540.50,151.70 C543.70,152.20 548.08,151.70 549.60,151.70" fill="none" stroke="#111" stroke-width="1.25" stroke-dasharray="2.4 1.7" stroke-linejoin="round"/>
<path d="M327.50,204.50H545.10" fill="none" stroke="#666" stroke-width="1.4"/>
<path d="M545.10,204.50V369.40" fill="none" stroke="#a8a8a8" stroke-width="1.3"/>
<path d="M327.50,369.40H545.60" fill="none" stroke="#111" stroke-width="1.3"/>
<path d="M327.50,204.00V370.00" fill="none" stroke="#111" stroke-width="1.3"/>
<path d="M323.70,204.50H327.50M325.30,212.75H327.50M323.70,220.99H327.50M325.30,229.24H327.50M323.70,237.48H327.50M325.30,245.72H327.50M323.70,253.97H327.50M325.30,262.22H327.50M323.70,270.46H327.50M325.30,278.70H327.50M323.70,286.95H327.50M325.30,295.19H327.50M323.70,303.44H327.50M325.30,311.69H327.50M323.70,319.93H327.50M325.30,328.17H327.50M323.70,336.42H327.50M325.30,344.66H327.50M323.70,352.91H327.50M325.30,361.15H327.50M323.70,369.40H327.50M327.50,369.40V372.40M354.70,369.40V371.20M381.90,369.40V372.40M409.10,369.40V371.20M436.30,369.40V372.40M463.50,369.40V371.20M490.70,369.40V372.40M517.90,369.40V371.20M545.10,369.40V372.40" fill="none" stroke="#111" stroke-width="1"/>
<text transform="translate(321.90,207.50) scale(1,1.06)" text-anchor="end" font-size="8.4" class="t">-1.2</text>
<text transform="translate(321.90,223.99) scale(1,1.06)" text-anchor="end" font-size="8.4" class="t">-1.3</text>
<text transform="translate(321.90,240.48) scale(1,1.06)" text-anchor="end" font-size="8.4" class="t">-1.4</text>
<text transform="translate(321.90,256.97) scale(1,1.06)" text-anchor="end" font-size="8.4" class="t">-1.5</text>
<text transform="translate(321.90,273.46) scale(1,1.06)" text-anchor="end" font-size="8.4" class="t">-1.6</text>
<text transform="translate(321.90,289.95) scale(1,1.06)" text-anchor="end" font-size="8.4" class="t">-1.7</text>
<text transform="translate(321.90,306.44) scale(1,1.06)" text-anchor="end" font-size="8.4" class="t">-1.8</text>
<text transform="translate(321.90,322.93) scale(1,1.06)" text-anchor="end" font-size="8.4" class="t">-1.9</text>
<text transform="translate(321.90,339.42) scale(1,1.06)" text-anchor="end" font-size="8.4" class="t">-2.0</text>
<text transform="translate(321.90,355.91) scale(1,1.06)" text-anchor="end" font-size="8.4" class="t">-2.1</text>
<text transform="translate(321.90,372.40) scale(1,1.06)" text-anchor="end" font-size="8.4" class="t">-2.2</text>
<text transform="translate(327.50,381.40) scale(1,1.1)" text-anchor="middle" font-size="8.4" class="t">0</text>
<text transform="translate(381.90,381.40) scale(1,1.1)" text-anchor="middle" font-size="8.4" class="t">100</text>
<text transform="translate(436.30,381.40) scale(1,1.1)" text-anchor="middle" font-size="8.4" class="t">200</text>
<text transform="translate(490.70,381.40) scale(1,1.1)" text-anchor="middle" font-size="8.4" class="t">300</text>
<text transform="translate(545.10,381.40) scale(1,1.1)" text-anchor="middle" font-size="8.4" class="t">400</text>
<text transform="translate(293.00,319.70) rotate(-90)" x="0" y="0" font-size="10.4" font-weight="bold" class="b" textLength="89.6" lengthAdjust="spacingAndGlyphs">Electric potential (V)</text>
<text x="404.80" y="394.00" font-size="9.5" font-weight="bold" class="b" textLength="56.6" lengthAdjust="spacingAndGlyphs">Distance (nm)</text>
<rect x="531.40" y="204.50" width="14.40" height="13.70" fill="#fff" stroke="#222" stroke-width="1.1"/>
<text x="539.20" y="214.80" text-anchor="middle" font-size="9.5" font-weight="bold">d</text>
<text x="340.00" y="213.90" font-size="8.3" font-weight="bold" class="b" textLength="83.6" lengthAdjust="spacingAndGlyphs">Relative humidity (RH):</text>
<path d="M339.20,220.70H357.70" stroke="#111" stroke-width="1.15" fill="none"/>
<text x="359.80" y="223.30" font-size="8.1" class="l">30%</text>
<path d="M339.20,229.90H357.70" stroke="#111" stroke-width="1.3" stroke-dasharray="1.1 1.5" fill="none"/>
<text x="359.80" y="232.50" font-size="8.1" class="l">50%</text>
<path d="M339.20,238.90H357.70" stroke="#111" stroke-width="1.25" stroke-dasharray="2.4 1.7" fill="none"/>
<text x="359.80" y="241.50" font-size="8.1" class="l">70%</text>
<text x="352.80" y="251.00" font-size="8.1" class="l">Back to</text>
<path d="M339.20,257.40H357.70" stroke="#1a1a1a" stroke-width="1.1" stroke-dasharray="2.6 1 1 1" fill="none"/>
<text x="359.80" y="260.00" font-size="8.1" class="l" textLength="100.2" lengthAdjust="spacingAndGlyphs">30% (obtained immediately)</text>
<path d="M339.20,266.60H357.70" stroke="#1a1a1a" stroke-width="1.1" stroke-dasharray="2.4 0.9 0.9 0.9 0.9 0.9" fill="none"/>
<text x="359.80" y="269.20" font-size="8.1" class="l" textLength="66.2" lengthAdjust="spacingAndGlyphs">30% (after 90 min)</text>
<path d="M327.70,253.50 C327.98,254.48 328.97,257.68 329.40,259.40 C329.83,261.12 329.83,262.23 330.30,263.80 C330.77,265.37 331.67,267.18 332.20,268.80 C332.73,270.42 332.88,271.38 333.50,273.50 C334.12,275.62 334.67,278.90 335.90,281.50 C337.13,284.10 339.02,286.78 340.90,289.10 C342.78,291.42 345.10,293.60 347.20,295.40 C349.30,297.20 351.67,298.47 353.50,299.90 C355.33,301.33 356.78,303.02 358.20,304.00 C359.62,304.98 360.37,305.03 362.00,305.80 C363.63,306.57 365.92,307.50 368.00,308.60 C370.08,309.70 372.33,311.35 374.50,312.40 C376.67,313.45 378.83,314.27 381.00,314.90 C383.17,315.53 384.97,315.88 387.50,316.20 C390.03,316.52 393.67,316.60 396.20,316.80 C398.73,317.00 400.37,317.00 402.70,317.40 C405.03,317.80 407.70,318.87 410.20,319.20 C412.70,319.53 415.18,319.70 417.70,319.40 C420.22,319.10 423.02,318.37 425.30,317.40 C427.58,316.43 429.63,315.37 431.40,313.60 C433.17,311.83 434.38,308.93 435.90,306.80 C437.42,304.67 438.73,302.18 440.50,300.80 C442.27,299.42 444.48,298.88 446.50,298.50 C448.52,298.12 450.75,298.43 452.60,298.50 C454.45,298.57 455.50,298.57 457.60,298.90 C459.70,299.23 462.68,299.87 465.20,300.50 C467.72,301.13 470.18,301.95 472.70,302.70 C475.22,303.45 477.77,304.23 480.30,305.00 C482.83,305.77 485.63,306.88 487.90,307.30 C490.17,307.72 492.38,307.80 493.90,307.50 C495.42,307.20 496.07,306.05 497.00,305.50 C497.93,304.95 498.48,304.25 499.50,304.20 C500.52,304.15 501.83,304.78 503.10,305.20 C504.37,305.62 505.92,306.70 507.10,306.70 C508.28,306.70 509.35,306.28 510.20,305.20 C511.05,304.12 511.53,301.88 512.20,300.20 C512.87,298.52 513.53,296.32 514.20,295.10 C514.87,293.88 515.37,293.23 516.20,292.90 C517.03,292.57 518.02,292.73 519.20,293.10 C520.38,293.47 521.78,294.18 523.30,295.10 C524.82,296.02 526.62,297.42 528.30,298.60 C529.98,299.78 531.72,300.93 533.40,302.20 C535.08,303.47 536.97,305.03 538.40,306.20 C539.83,307.37 540.90,308.40 542.00,309.20 C543.10,310.00 544.50,310.70 545.00,311.00" fill="none" stroke="#111" stroke-width="1.15" stroke-linejoin="round"/>
<path d="M328.10,263.80 C328.37,264.53 329.12,266.73 329.70,268.20 C330.28,269.67 330.77,270.72 331.60,272.60 C332.43,274.48 333.65,277.52 334.70,279.50 C335.75,281.48 336.85,282.93 337.90,284.50 C338.95,286.07 339.98,287.63 341.00,288.90 C342.02,290.17 342.53,290.70 344.00,292.10 C345.47,293.50 347.78,295.70 349.80,297.30 C351.82,298.90 354.33,300.58 356.10,301.70 C357.87,302.82 358.78,303.38 360.40,304.00 C362.02,304.62 363.98,305.08 365.80,305.40 C367.62,305.72 369.48,305.55 371.30,305.90 C373.12,306.25 374.90,306.95 376.70,307.50 C378.50,308.05 380.30,308.75 382.10,309.20 C383.90,309.65 385.68,309.93 387.50,310.20 C389.32,310.47 391.37,310.62 393.00,310.80 C394.63,310.98 396.03,310.77 397.30,311.30 C398.57,311.83 399.33,313.00 400.60,314.00 C401.87,315.00 403.47,316.30 404.90,317.30 C406.33,318.30 407.57,319.10 409.20,320.00 C410.83,320.90 412.52,321.73 414.70,322.70 C416.88,323.67 419.90,324.92 422.30,325.80 C424.70,326.68 427.33,328.00 429.10,328.00 C430.87,328.00 431.52,327.32 432.90,325.80 C434.28,324.28 435.88,321.30 437.40,318.90 C438.92,316.50 440.48,313.67 442.00,311.40 C443.52,309.13 444.98,306.82 446.50,305.30 C448.02,303.78 449.68,303.18 451.10,302.30 C452.52,301.42 453.42,300.30 455.00,300.00 C456.58,299.70 458.65,299.92 460.60,300.50 C462.55,301.08 464.68,302.37 466.70,303.50 C468.72,304.63 470.43,306.17 472.70,307.30 C474.97,308.43 477.77,309.42 480.30,310.30 C482.83,311.18 485.45,312.10 487.90,312.60 C490.35,313.10 493.15,313.02 495.00,313.30 C496.85,313.58 497.48,314.22 499.00,314.30 C500.52,314.38 502.75,314.30 504.10,313.80 C505.45,313.30 506.08,312.48 507.10,311.30 C508.12,310.12 509.18,308.22 510.20,306.70 C511.22,305.18 512.03,303.12 513.20,302.20 C514.37,301.28 515.68,301.20 517.20,301.20 C518.72,301.20 520.78,301.78 522.30,302.20 C523.82,302.62 524.78,303.03 526.30,303.70 C527.82,304.37 529.55,304.93 531.40,306.20 C533.25,307.47 535.22,309.87 537.40,311.30 C539.58,312.73 543.32,314.22 544.50,314.80" fill="none" stroke="#1a1a1a" stroke-width="1.1" stroke-dasharray="2.6 1 1 1" stroke-linejoin="round"/>
<path d="M327.70,270.00 C327.77,270.53 327.77,271.83 328.10,273.20 C328.43,274.57 329.02,276.53 329.70,278.20 C330.38,279.87 331.25,281.52 332.20,283.20 C333.15,284.88 334.25,286.82 335.40,288.30 C336.55,289.78 337.85,291.02 339.10,292.10 C340.35,293.18 341.33,293.40 342.90,294.80 C344.47,296.20 346.52,299.13 348.50,300.50 C350.48,301.87 352.82,302.17 354.80,303.00 C356.78,303.83 358.32,304.72 360.40,305.50 C362.48,306.28 364.63,307.08 367.30,307.70 C369.97,308.32 373.37,308.90 376.40,309.20 C379.43,309.50 382.73,309.32 385.50,309.50 C388.27,309.68 390.98,309.83 393.00,310.30 C395.02,310.77 396.10,311.35 397.60,312.30 C399.10,313.25 400.17,314.90 402.00,316.00 C403.83,317.10 406.48,317.73 408.60,318.90 C410.72,320.07 412.42,321.73 414.70,323.00 C416.98,324.27 419.83,325.58 422.30,326.50 C424.77,327.42 427.98,328.37 429.50,328.50 C431.02,328.63 430.33,328.38 431.40,327.30 C432.47,326.22 434.38,324.15 435.90,322.00 C437.42,319.85 438.98,316.55 440.50,314.40 C442.02,312.25 443.50,310.37 445.00,309.10 C446.50,307.83 447.98,307.43 449.50,306.80 C451.02,306.17 452.35,305.60 454.10,305.30 C455.85,305.00 457.90,305.05 460.00,305.00 C462.10,304.95 464.58,304.50 466.70,305.00 C468.82,305.50 470.43,306.73 472.70,308.00 C474.97,309.27 477.27,311.33 480.30,312.60 C483.33,313.87 488.45,315.15 490.90,315.60 C493.35,316.05 492.97,315.35 495.00,315.30 C497.03,315.25 500.92,314.97 503.10,315.30 C505.28,315.63 506.58,316.88 508.10,317.30 C509.62,317.72 511.02,318.30 512.20,317.80 C513.38,317.30 514.03,315.90 515.20,314.30 C516.37,312.70 517.85,309.72 519.20,308.20 C520.55,306.68 521.95,305.87 523.30,305.20 C524.65,304.53 525.78,303.87 527.30,304.20 C528.82,304.53 530.55,305.85 532.40,307.20 C534.25,308.55 536.38,310.20 538.40,312.30 C540.42,314.40 543.48,318.55 544.50,319.80" fill="none" stroke="#1a1a1a" stroke-width="1.1" stroke-dasharray="2.4 0.9 0.9 0.9 0.9 0.9" stroke-linejoin="round"/>
<path d="M327.80,286.00 C328.07,286.48 328.98,287.98 329.40,288.90 C329.82,289.82 329.83,290.65 330.30,291.50 C330.77,292.35 331.48,293.00 332.20,294.00 C332.92,295.00 333.57,296.37 334.60,297.50 C335.63,298.63 337.50,300.10 338.40,300.80 C339.30,301.50 339.15,301.00 340.00,301.70 C340.85,302.40 342.48,304.00 343.50,305.00 C344.52,306.00 344.67,306.57 346.10,307.70 C347.53,308.83 349.83,310.53 352.10,311.80 C354.37,313.07 357.17,314.08 359.70,315.30 C362.23,316.52 364.78,317.83 367.30,319.10 C369.82,320.37 372.28,321.77 374.80,322.90 C377.32,324.03 379.87,325.02 382.40,325.90 C384.93,326.78 387.68,327.52 390.00,328.20 C392.32,328.88 393.90,329.57 396.30,330.00 C398.70,330.43 401.68,330.67 404.40,330.80 C407.12,330.93 409.88,331.00 412.60,330.80 C415.32,330.60 418.27,330.12 420.70,329.60 C423.13,329.08 425.03,328.37 427.20,327.70 C429.37,327.03 431.98,326.55 433.70,325.60 C435.42,324.65 436.28,323.43 437.50,322.00 C438.72,320.57 439.75,318.83 441.00,317.00 C442.25,315.17 443.50,312.62 445.00,311.00 C446.50,309.38 447.90,308.05 450.00,307.30 C452.10,306.55 455.07,306.38 457.60,306.50 C460.13,306.62 462.68,307.37 465.20,308.00 C467.72,308.63 470.18,309.53 472.70,310.30 C475.22,311.07 477.77,311.97 480.30,312.60 C482.83,313.23 485.37,313.60 487.90,314.10 C490.43,314.60 492.98,315.28 495.50,315.60 C498.02,315.92 501.00,316.77 503.00,316.00 C505.00,315.23 506.25,312.83 507.50,311.00 C508.75,309.17 509.63,306.80 510.50,305.00 C511.37,303.20 511.92,301.77 512.70,300.20 C513.48,298.63 514.12,296.45 515.20,295.60 C516.28,294.75 517.85,294.93 519.20,295.10 C520.55,295.27 521.95,295.75 523.30,296.60 C524.65,297.45 526.02,298.97 527.30,300.20 C528.58,301.43 529.38,302.37 531.00,304.00 C532.62,305.63 534.75,308.00 537.00,310.00 C539.25,312.00 543.25,315.00 544.50,316.00" fill="none" stroke="#111" stroke-width="1.3" stroke-dasharray="1.1 1.5" stroke-linejoin="round"/>
<path d="M327.70,275.00 C327.82,275.22 328.08,275.32 328.40,276.30 C328.72,277.28 328.98,279.08 329.60,280.90 C330.22,282.72 331.05,285.10 332.10,287.20 C333.15,289.30 334.83,291.78 335.90,293.50 C336.97,295.22 337.82,296.25 338.50,297.50 C339.18,298.75 339.42,299.67 340.00,301.00 C340.58,302.33 341.25,303.87 342.00,305.50 C342.75,307.13 343.32,308.78 344.50,310.80 C345.68,312.82 347.32,315.72 349.10,317.60 C350.88,319.48 353.18,320.92 355.20,322.10 C357.22,323.28 359.43,323.57 361.20,324.70 C362.97,325.83 364.28,327.32 365.80,328.90 C367.32,330.48 368.53,332.80 370.30,334.20 C372.07,335.60 374.78,336.70 376.40,337.30 C378.02,337.90 378.75,337.52 380.00,337.80 C381.25,338.08 382.55,338.32 383.90,339.00 C385.25,339.68 386.58,341.15 388.10,341.90 C389.62,342.65 391.63,342.83 393.00,343.50 C394.37,344.17 394.13,344.95 396.30,345.90 C398.47,346.85 402.75,348.43 406.00,349.20 C409.25,349.97 412.82,350.77 415.80,350.50 C418.78,350.23 420.92,348.90 423.90,347.60 C426.88,346.30 430.72,344.33 433.70,342.70 C436.68,341.07 439.08,339.75 441.80,337.80 C444.52,335.85 447.28,332.22 450.00,331.00 C452.72,329.78 455.67,330.78 458.10,330.50 C460.53,330.22 462.62,329.22 464.60,329.30 C466.58,329.38 467.38,330.50 470.00,331.00 C472.62,331.50 477.32,331.83 480.30,332.30 C483.28,332.77 485.37,333.43 487.90,333.80 C490.43,334.17 492.98,334.50 495.50,334.50 C498.02,334.50 500.73,334.63 503.00,333.80 C505.27,332.97 507.07,330.97 509.10,329.50 C511.13,328.03 513.43,326.77 515.20,325.00 C516.97,323.23 518.45,320.92 519.70,318.90 C520.95,316.88 521.68,314.67 522.70,312.90 C523.72,311.13 524.78,309.43 525.80,308.30 C526.82,307.17 527.80,306.35 528.80,306.10 C529.80,305.85 530.53,305.92 531.80,306.80 C533.07,307.68 534.88,309.88 536.40,311.40 C537.92,312.92 539.52,314.65 540.90,315.90 C542.28,317.15 544.07,318.40 544.70,318.90" fill="none" stroke="#111" stroke-width="1.25" stroke-dasharray="2.4 1.7" stroke-linejoin="round"/>
</svg></body></html>
